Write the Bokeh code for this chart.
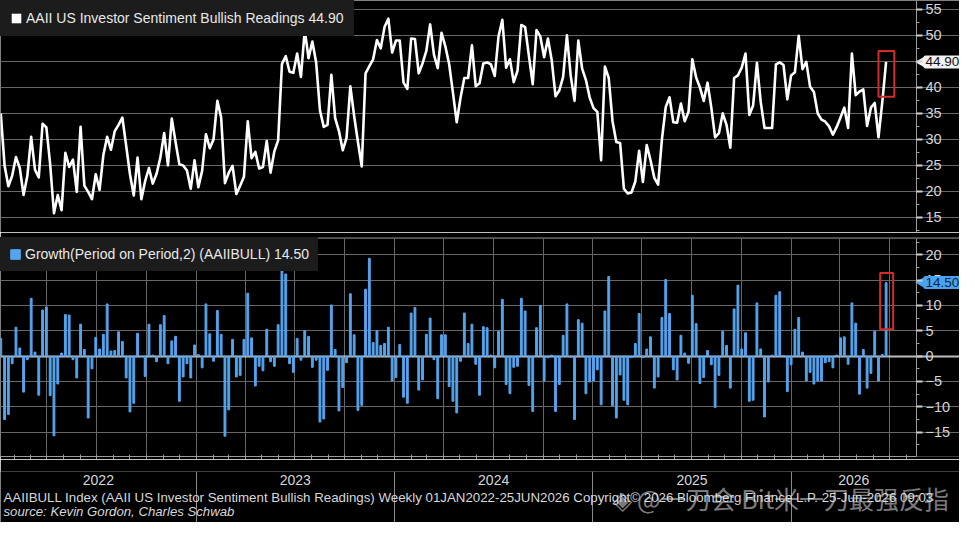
import pandas as pd
from bokeh.plotting import figure
from bokeh.models import (Range1d, FixedTicker, Grid, Legend, LegendItem, Label, Span)
from bokeh.layouts import column
from bokeh.core.properties import value
from bokeh.embed import file_html
from bokeh.resources import INLINE

# ---------------- data ----------------
FIRST_WEEK = "2022-01-06"   # weekly readings (Thursdays) up to 25 Jun 2026

bull = [35.0, 25.0, 21.0, 23.0, 26.6, 24.5, 19.3, 23.0, 30.5, 24.2,
        22.7, 33.0, 32.3, 25.2, 15.8, 19.3, 16.4, 27.4, 24.7, 26.1,
        19.9, 32.4, 21.1, 19.9, 18.5, 23.3, 20.3, 27.0, 30.5, 28.0,
        31.6, 32.8, 34.2, 28.8, 23.3, 19.2, 26.5, 18.5, 22.0, 24.5,
        21.5, 23.4, 26.5, 31.2, 25.0, 34.0, 29.5, 25.2, 25.0, 24.0,
        20.5, 26.0, 20.8, 24.0, 31.0, 28.3, 30.0, 37.4, 34.2, 21.6,
        23.6, 24.9, 19.5, 21.1, 22.8, 33.5, 26.4, 27.6, 24.4, 24.7,
        29.7, 23.6, 27.7, 29.8, 44.5, 46.0, 43.0, 42.8, 46.5, 42.0,
        51.0, 45.6, 48.8, 44.8, 35.6, 32.4, 32.8, 42.4, 34.1, 31.6,
        27.9, 30.3, 40.2, 34.5, 29.5, 24.8, 42.7, 44.1, 45.4, 49.1,
        47.5, 51.6, 53.2, 46.7, 49.0, 49.0, 40.9, 39.7, 49.4, 49.3,
        42.7, 44.6, 47.0, 52.1, 46.3, 43.7, 50.5, 47.9, 44.5, 39.0,
        33.3, 38.0, 41.8, 41.8, 48.1, 40.2, 40.8, 44.6, 44.8, 44.4,
        42.2, 49.8, 53.0, 43.8, 45.4, 41.0, 43.2, 52.0, 51.6, 46.0,
        40.6, 51.0, 49.8, 45.8, 49.4, 45.2, 38.3, 39.4, 42.0, 50.0,
        42.2, 37.4, 49.0, 43.6, 41.4, 38.0, 36.0, 35.3, 26.0, 44.0,
        41.8, 33.5, 29.5, 29.3, 20.5, 19.6, 19.8, 21.9, 27.8, 21.8,
        28.9, 26.0, 22.6, 21.3, 30.0, 36.2, 38.1, 33.3, 33.2, 36.9,
        33.5, 35.3, 45.4, 41.9, 40.0, 37.4, 40.9, 36.1, 30.4, 31.2,
        35.0, 32.8, 28.4, 41.8, 42.3, 43.8, 46.5, 34.7, 36.5, 44.7,
        37.2, 32.2, 32.2, 32.2, 44.4, 44.8, 44.3, 37.7, 42.3, 42.9,
        49.9, 43.5, 44.9, 40.1, 39.1, 35.0, 33.8, 33.4, 32.5, 30.9,
        32.4, 34.2, 36.1, 32.2, 46.5, 38.5, 39.2, 39.6, 32.6, 36.1,
        37.0, 30.4, 37.2, 44.9]

growth = [3.5, -12.5, -11.5, -1.5, 5.7, 1.6, -7.1, -0.7, 11.4, 0.8,
          -7.7, 9.1, 9.7, -7.8, -15.7, -5.5, 0.6, 8.2, 8.1, -0.7,
          -4.3, 6.3, 1.3, -12.2, -2.5, 3.7, 1.4, 4.3, 10.3, 1.0,
          1.1, 4.8, 2.9, -4.3, -11.0, -9.3, 4.5, -0.1, -4.0, 6.3,
          0.2, -1.1, 6.2, 8.0, -1.5, 3.0, 3.9, -8.9, -4.1, -1.5,
          -4.3, 2.2, 0.3, -2.3, 10.3, 4.4, -1.0, 9.0, 4.3, -15.8,
          -10.6, 3.3, -4.1, -3.8, 3.3, 12.4, 3.6, -5.9, -2.0, -2.9,
          5.3, -1.1, -2.0, 6.2, 16.8, 16.2, -1.5, -3.2, 3.5, -0.8,
          5.0, 3.9, -2.2, -0.8, -13.0, -12.4, -2.8, 10.1, 1.3, -10.8,
          -6.2, -1.3, 12.3, 4.2, -10.7, -9.7, 13.2, 19.3, 2.7, 5.0,
          2.1, 2.5, 5.7, -4.9, -4.2, 2.3, -8.1, -9.3, 8.5, 9.6,
          -6.7, -4.7, 4.3, 7.5, -0.7, -8.4, 4.2, 4.2, -6.0, -8.9,
          -11.2, -1.0, 8.5, 2.5, 6.3, -1.6, -7.7, 5.8, 5.6, 0.2,
          -2.3, 4.9, 11.2, -5.6, -7.4, -2.2, -2.0, 11.4, 8.9, -5.8,
          -10.9, 5.6, 10.0, -4.9, -0.3, 0.2, -10.9, -5.6, 4.1, 10.3,
          -0.2, -12.5, 7.2, 6.5, -7.4, -5.1, -4.9, -2.7, -9.6, 8.9,
          15.7, -9.8, -12.2, -3.7, -8.7, -9.6, -0.3, 2.5, 8.4, -0.3,
          1.4, 3.8, -6.3, -4.1, 7.6, 15.1, 8.4, -2.7, -4.7, 4.1,
          0.6, -1.4, 12.0, 6.4, -5.4, -4.2, 1.1, -1.7, -10.1, -3.8,
          4.9, 2.1, -6.3, 9.3, 14.0, 1.4, 4.6, -8.9, -8.7, 10.5,
          1.4, -12.0, -5.1, 0.2, 12.0, 12.7, 0.1, -7.0, -1.7, 5.3,
          7.6, 0.8, -4.9, -3.2, -5.5, -4.9, -4.9, -1.3, -1.1, -2.3,
          0.2, 3.6, 3.8, -1.6, 10.5, 6.5, -7.5, 1.3, -6.3, -3.4,
          4.9, -4.9, 0.3, 14.5]

year_labels = ["2022", "2023", "2024", "2025", "2026"]
top_ticks = [15, 20, 25, 30, 35, 40, 45, 50, 55]
bottom_ticks = [-15, -10, -5, 0, 5, 10, 15, 20]

TOP_LABEL = "AAII US Investor Sentiment Bullish Readings"
BOT_LABEL = "Growth(Period on Period,2) (AAIIBULL)"
FOOTER = ("AAIIBULL Index (AAII US Investor Sentiment Bullish Readings) Weekly "
          "01JAN2022-25JUN2026 Copyright\u00a9 2026 Bloomberg Finance L.P.  25-Jun-2026 09:03")
SOURCE = "source: Kevin Gordon, Charles Schwab"
WATERMARK = "\u25c8 @\u4e00\u5200\u4f1a Bit\u7c73\u4e00\u5200\u6700\u5f3a\u53cd\u6307"

# ---------------- helpers / styles ----------------
FONT = "Liberation Sans"
BG = "#000000"
GRID = "#676767"
AXIS = "#9c9c9c"
TXT = "#d6d6d6"
BLUE = "#56a4ee"
RED = "#d42b2b"
LEG_BG = "#1c1c1c"
W = 959           # full canvas / frame width
RB = 43           # room kept right of the value axis for its labels
DAY_MS = 24 * 3600 * 1000


def ms(ts):
    return pd.Timestamp(ts).value / 1e6


dates = pd.date_range(FIRST_WEEK, periods=len(bull), freq="7D")
x_start = pd.Timestamp("2022-01-05 12:00")
x_axis_at = pd.Timestamp("2026-08-20")          # where the value axis sits
x_end = x_axis_at + (x_axis_at - x_start) * RB / (W - RB)
px = (x_axis_at - x_start) / (W - RB)            # time covered by one pixel
xr = Range1d(start=x_start, end=x_end)
XB = (ms(x_start), ms(x_axis_at))

months = [ms(d) for d in pd.date_range("2022-02-01", x_axis_at, freq="MS")]
quarters = [ms(d) for d in pd.date_range("2022-04-01", x_axis_at, freq="QS")]
year_bounds = [ms(f"{y}-01-01") for y in range(2023, 2027)]
year_mid = []
for lab in year_labels:
    y0 = max(pd.Timestamp(f"{lab}-01-01"), x_start)
    y1 = min(pd.Timestamp(f"{int(lab) + 1}-01-01"), x_axis_at)
    year_mid.append((ms(y0) + ms(y1)) / 2)


def style_value_axis(fig, ticks):
    ax = fig.yaxis[0]
    minors = [t + 2.5 for t in ticks] + [ticks[0] - 2.5]
    ax.ticker = FixedTicker(ticks=ticks, minor_ticks=minors)
    ax.fixed_location = ms(x_axis_at)
    ax.axis_line_color = AXIS
    ax.major_tick_line_color = "#cfcfcf"
    ax.major_tick_line_width = 2
    ax.major_tick_in = 0
    ax.major_tick_out = 6
    ax.minor_tick_line_color = AXIS
    ax.minor_tick_in = 0
    ax.minor_tick_out = 3
    ax.major_label_text_color = TXT
    ax.major_label_text_font = FONT
    ax.major_label_text_font_size = "14.5px"
    ax.major_label_standoff = 3
    fig.ygrid.grid_line_color = GRID
    fig.ygrid.bounds = XB


def base_fig(fh, y_range, **kw):
    return figure(frame_width=W, frame_height=fh, x_range=xr, y_range=y_range,
                  x_axis_type="datetime", output_backend="svg", toolbar_location=None,
                  background_fill_color=BG, border_fill_color=BG, outline_line_color=None,
                  min_border_left=0, min_border_right=0, **kw)


def legend(item, pad):
    # border drawn in the box colour so that the padding is kept
    return Legend(items=[item], location="top_left", margin=0, padding=pad, spacing=0,
                  background_fill_color=LEG_BG, background_fill_alpha=1,
                  border_line_color=LEG_BG, border_line_width=1,
                  label_text_color="#e8e8e8", label_text_font=FONT, label_text_font_size="14px",
                  glyph_width=12, glyph_height=12, label_standoff=4, label_height=12)


def add_flag(fig, y, fill, color):
    # value tag on the axis: a left-pointing notch plus a rounded box
    fig.scatter(x=[x_axis_at + px * 5], y=[y], marker="triangle", angle=90, angle_units="deg",
                size=11, fill_color=fill, line_color=None)
    fig.add_layout(Label(x=ms(x_axis_at), y=y, x_offset=7, text=f"{y:.2f}", text_color=color,
                         text_font=FONT, text_font_size="13.5px", text_baseline="middle",
                         background_fill_color=fill, padding=2, border_radius=2))


# ---------------- top panel ----------------
top = base_fig(232, Range1d(12.1, 56.7), x_axis_location=None, y_axis_location="right",
               min_border_top=0, min_border_bottom=0)
top.xgrid.visible = False
style_value_axis(top, top_ticks)

top.line(dates, bull, line_color="white", line_width=2.6, line_join="round")
key_top = top.rect(x=[dates[-1]], y=[bull[-1]], width=0, height=0,
                   fill_color="white", line_color=None)
top.quad(left=[dates[-1] - pd.Timedelta(days=14)], right=[dates[-1] + pd.Timedelta(days=15)],
         bottom=[bull[-1] - 6.7], top=[bull[-1] + 2.1],
         fill_alpha=0, line_color=RED, line_width=2)
top.add_layout(legend(LegendItem(label=f"{TOP_LABEL} {bull[-1]:.2f}", renderers=[key_top]), 9))
add_flag(top, bull[-1], "#f2f2f2", "#111111")

# ---------------- bottom panel ----------------
bot = base_fig(219, Range1d(-19.8, 23.4), y_axis_location="right",
               min_border_top=5, min_border_bottom=0)
style_value_axis(bot, bottom_ticks)
bot.xgrid.ticker = FixedTicker(ticks=quarters)
bot.xgrid.grid_line_color = GRID
bot.add_layout(Grid(dimension=1, ticker=FixedTicker(ticks=[0]), bounds=XB,
                    grid_line_color="#bdbdbd", grid_line_width=2))

xa = bot.xaxis[0]
xa.ticker = FixedTicker(ticks=[], minor_ticks=months)
xa.bounds = XB
xa.axis_line_color = AXIS
xa.major_tick_out = 3
xa.minor_tick_line_color = AXIS
xa.minor_tick_in = 2
xa.minor_tick_out = 3
xa.major_label_standoff = 0

bot.add_layout(Span(location=bot.y_range.end, dimension="width", line_color="#555555", line_width=3))

bars = bot.vbar(x=dates, top=growth, width=3.4 * DAY_MS, fill_color=BLUE, line_color=BLUE)
bot.quad(left=[dates[-1] - pd.Timedelta(days=11)], right=[dates[-1] + pd.Timedelta(days=13)],
         bottom=[growth[-1] - 9.2], top=[growth[-1] + 1.9],
         fill_alpha=0, line_color=RED, line_width=2)
bot.add_layout(legend(LegendItem(label=f"{BOT_LABEL} {growth[-1]:.2f}", renderers=[bars]), 8))
add_flag(bot, growth[-1], "#4aa3f2", "#0b2740")

# ---------------- year band + footer ----------------
band = base_fig(51, Range1d(0, 3), x_axis_location=None, y_axis_location=None,
                min_border_top=12, min_border_bottom=0)
band.xgrid.visible = False
band.ygrid.visible = False
band.add_layout(Grid(dimension=0, ticker=FixedTicker(ticks=year_bounds), bounds=(2, 3),
                     grid_line_color="#8a8a8a", grid_line_width=1))
band.text(x=year_mid, y=[2.5] * len(year_mid), text=year_labels,
          text_align="center", text_baseline="middle",
          text_font=value(FONT), text_font_size="14px", text_color=TXT)

band.add_layout(Label(x=ms(x_start), y=1.45, x_offset=3, text=FOOTER, text_font=FONT,
                      text_font_size="13.3px", text_color="#d8d8d8", text_baseline="middle"))
band.add_layout(Label(x=ms(x_start), y=0.62, x_offset=3, text=SOURCE, text_font=FONT,
                      text_font_size="13.2px", text_font_style="italic", text_color="#d8d8d8",
                      text_baseline="middle"))
band.add_layout(Label(x=ms(x_start), y=1.45, x_offset=612, text=WATERMARK,
                      text_font="Noto Sans CJK SC", text_font_size="25px",
                      text_color="#e6e6e6", text_alpha=0.55, text_baseline="middle"))

p = column(top, bot, band)

open("out.html", "w").write(file_html(p, INLINE))
